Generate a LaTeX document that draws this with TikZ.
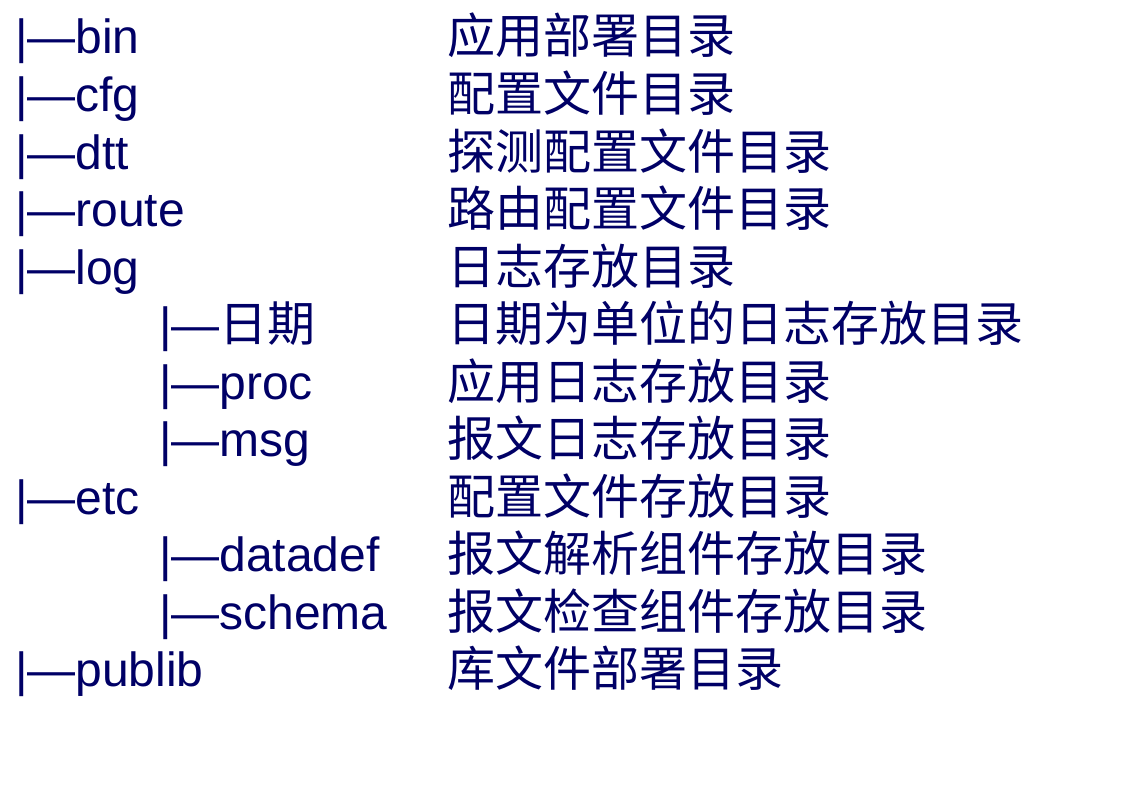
\documentclass[tikz,border=0pt]{standalone}
\usepackage{fontspec}
\setmainfont{Liberation Sans}
\newfontfamily\cjk{Noto Sans CJK SC}
\definecolor{navyink}{RGB}{0,0,102}
\newcommand\mybranch{|—}
\begin{document}
\begin{tikzpicture}[x=0.75pt,y=-0.75pt,
  txt/.style={anchor=base west, inner sep=0pt, outer sep=0pt, text=navyink, font=\fontsize{36}{40}\selectfont},
  desc/.style={txt, font=\fontsize{36}{40}\selectfont\cjk}]
\useasboundingbox (0,0) rectangle (1123,792);
\node[txt] (l1) at (15,54) {\mybranch bin};
\node[desc] (r1) at (447,54) {应用部署目录};
\node[txt] (l2) at (15,111.5) {\mybranch cfg};
\node[desc] (r2) at (447,111.5) {配置文件目录};
\node[txt] (l3) at (15,169) {\mybranch dtt};
\node[desc] (r3) at (447,169) {探测配置文件目录};
\node[txt] (l4) at (15,226.5) {\mybranch route};
\node[desc] (r4) at (447,226.5) {路由配置文件目录};
\node[txt] (l5) at (15,284) {\mybranch log};
\node[desc] (r5) at (447,284) {日志存放目录};
\node[txt] (l6) at (159,341.5) {\mybranch{\cjk 日期}};
\node[desc] (r6) at (447,341.5) {日期为单位的日志存放目录};
\node[txt] (l7) at (159,399) {\mybranch proc};
\node[desc] (r7) at (447,399) {应用日志存放目录};
\node[txt] (l8) at (159,456.5) {\mybranch msg};
\node[desc] (r8) at (447,456.5) {报文日志存放目录};
\node[txt] (l9) at (15,514) {\mybranch etc};
\node[desc] (r9) at (447,514) {配置文件存放目录};
\node[txt] (l10) at (159,571.5) {\mybranch datadef};
\node[desc] (r10) at (447,571.5) {报文解析组件存放目录};
\node[txt] (l11) at (159,629) {\mybranch schema};
\node[desc] (r11) at (447,629) {报文检查组件存放目录};
\node[txt] (l12) at (15,686.5) {\mybranch publib};
\node[desc] (r12) at (447,686.5) {库文件部署目录};
\end{tikzpicture}
\end{document}
